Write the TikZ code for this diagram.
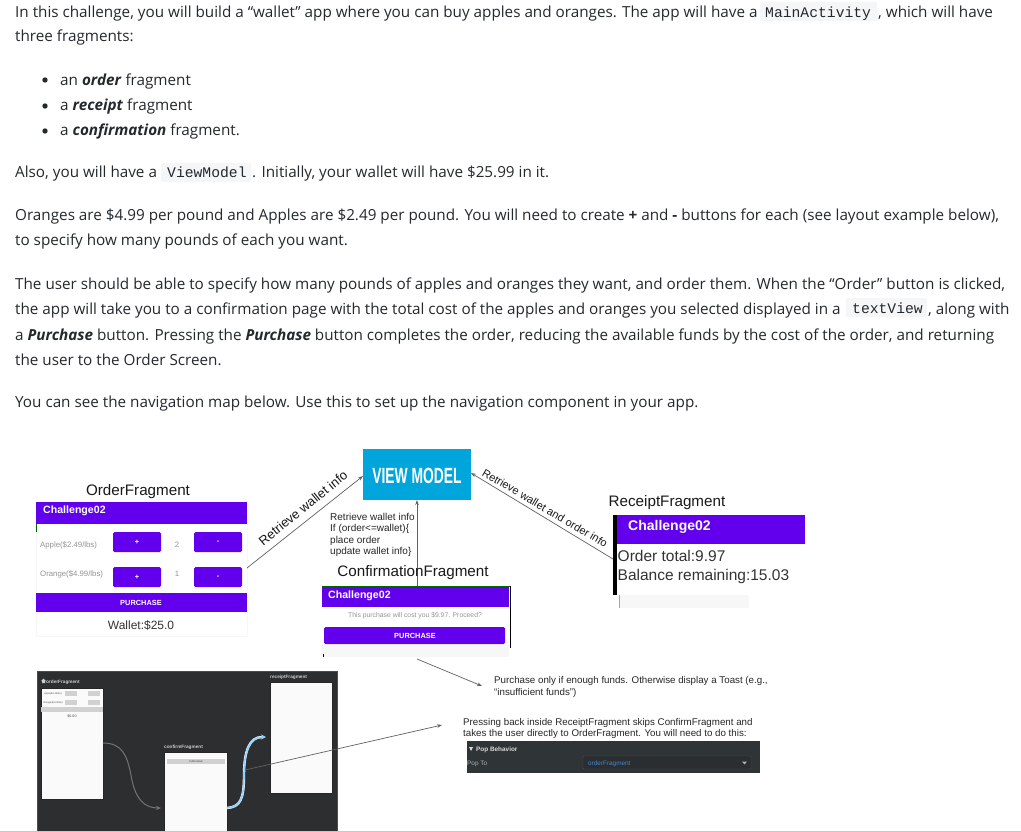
\documentclass[tikz,border=0pt]{standalone}
\usepackage{fontspec}
\setmainfont{Open Sans}
\setmonofont{Liberation Mono}
\newfontfamily\ar{Liberation Sans}
\usetikzlibrary{arrows.meta}
\definecolor{purp}{HTML}{6200EE}
\definecolor{txt}{HTML}{24292E}
\definecolor{codebg}{HTML}{F5F6F7}
\definecolor{vmblue}{HTML}{00A5DB}
\definecolor{navbg}{HTML}{2D2E30}
\definecolor{popbg}{HTML}{2F3436}
\definecolor{popdd}{HTML}{2B2E30}
\definecolor{popedge}{HTML}{474B4E}
\definecolor{popblue}{HTML}{4A86C8}
\newcommand\fs[1]{\fontsize{#1}{#1}\selectfont}
\newcommand\rbox[6]{\pgfmathsetmacro\bw{#4-#2}\pgfmathsetmacro\bh{#5-#3}%
 \node[#6,inner sep=0pt,outer sep=0pt,minimum width=\bw pt,minimum height=\bh pt,anchor=north west] (#1) at (#2,#3) {};}
\tikzset{
 x=1pt,y=-1pt,
 body/.style={anchor=base west,inner sep=0pt,text=txt,font=\fs{15.25}},
 code/.style={anchor=base west,inner sep=0pt,text=txt,font=\ttfamily\fs{14.7}},
 codebox/.style={fill=codebg,draw=none,rounded corners=2pt},
 ann/.style={anchor=base west,inner sep=0pt,text=black!85,font=\ar\fs{9.75}},
 title/.style={inner sep=0pt,text=black!90,font=\ar\fs{15.2}},
 purplebar/.style={fill=purp,draw=none},
 btn/.style={fill=purp,draw=none,rounded corners=1.5pt},
 btnlab/.style={inner sep=0pt,text=white,font=\ar\bfseries\fs{7.4}},
 graylab/.style={inner sep=0pt,text=black!42,font=\ar\fs{7.8}},
 apptitle/.style={anchor=base west,inner sep=0pt,text=white,font=\ar\bfseries\fs{10.6}},
 conn/.style={draw=black!62,line width=.7pt,-{Stealth[length=5pt,width=3.5pt]}},
 screen/.style={fill=white!98!black,draw=black!85,line width=.5pt},
 navtitle/.style={anchor=base west,inner sep=0pt,text=black!20,font=\ar\bfseries\fs{4.7}},
 minibtn/.style={fill=black!18,draw=none},
 bulletdot/.style={circle,fill=txt,draw=none,inner sep=0pt,minimum size=5.4pt},
}
\begin{document}
\begin{tikzpicture}
\useasboundingbox (0,0) rectangle (1021,832);
\fill[white] (0,0) rectangle (1021,832);
% ---- page text
\rbox{c1}{760}{2}{877}{21}{codebox}
\rbox{c2}{161}{163}{251}{182}{codebox}
\rbox{c3}{846}{298}{927}{317}{codebox}
\node[body] (t1) at (15,18) {In this challenge, you will build a “wallet” app where you can buy apples and oranges. The app will have a};
\node[code] (t1c) at (765,17.5) {MainActivity};
\node[body] (t1b) at (878,18) {, which will have};
\node[body] (t2) at (15,42) {three fragments:};
\node[bulletdot] (b1) at (45,80) {};
\node[bulletdot] (b2) at (45,106) {};
\node[bulletdot] (b3) at (45,131) {};
\node[body] (l1) at (60,86) {an \textbf{\textit{order}} fragment};
\node[body] (l2) at (60,111) {a \textbf{\textit{receipt}} fragment};
\node[body] (l3) at (60,136) {a \textbf{\textit{confirmation}} fragment.};
\node[body] (t3) at (15,178) {Also, you will have a};
\node[code] (t3c) at (167,177.5) {ViewModel};
\node[body] (t3b) at (252,178) {. Initially, your wallet will have \$25.99 in it.};
\node[body] (t4) at (15,221) {Oranges are \$4.99 per pound and Apples are \$2.49 per pound. You will need to create \textbf{+} and \textbf{-} buttons for each (see layout example below),};
\node[body] (t5) at (15,246) {to specify how many pounds of each you want.};
\node[body] (t6) at (15,289) {The user should be able to specify how many pounds of apples and oranges they want, and order them. When the “Order” button is clicked,};
\node[body] (t7) at (15,314) {the app will take you to a confirmation page with the total cost of the apples and oranges you selected displayed in a};
\node[code] (t7c) at (852,313.5) {textView};
\node[body] (t7b) at (928,314) {, along with};
\node[body] (t8) at (15,340) {a \textbf{\textit{Purchase}} button. Pressing the \textbf{\textit{Purchase}} button completes the order, reducing the available funds by the cost of the order, and returning};
\node[body] (t9) at (15,365) {the user to the Order Screen.};
\node[body] (t10) at (15,407) {You can see the navigation map below. Use this to set up the navigation component in your app.};
% ---- order fragment
\node[title] (ordt) at (138,491.5) {OrderFragment};
\rbox{ordp}{36}{502}{247}{636}{fill=white,draw=black!3}
\draw[draw=black!60!green,line width=.8pt] (36,502) -- (36,532);
\rbox{ordh}{36}{502}{247}{524}{purplebar}
\node[apptitle] (ordc) at (43,513.5) {Challenge02};
\node[graylab,anchor=west] (ap) at (40,545) {Apple(\$2.49/lbs)};
\node[graylab,anchor=west] (orl) at (40,574) {Orange(\$4.99/lbs)};
\rbox{bp1}{113}{532}{161}{552}{btn}
\rbox{bm1}{194}{532}{242}{552}{btn}
\rbox{bp2}{113}{567}{161}{587}{btn}
\rbox{bm2}{194}{567}{242}{587}{btn}
\node[btnlab] at (bp1) {+};
\node[btnlab] at (bm1) {-};
\node[btnlab] at (bp2) {+};
\node[btnlab] at (bm2) {-};
\node[graylab] (n1) at (177,545) {2};
\node[graylab] (n2) at (177,574) {1};
\rbox{ordb}{36}{593}{247}{612}{purplebar}
\node[btnlab] (ordbl) at (141,603) {PURCHASE};
\node[inner sep=0pt,text=black!80,font=\ar\fs{12}] (wal) at (141,625) {Wallet:\$25.0};
% ---- view model
\rbox{vm}{363}{449}{471}{500}{fill=vmblue,draw=none}
\node[inner sep=0pt,text=white,font=\ar\bfseries\fs{22},xscale=.63] (vmt) at (417,475.5) {VIEW MODEL};
% ---- confirmation
\node[ann,font=\ar\fs{10}] (w1) at (330,520) {Retrieve wallet info};
\node[ann,font=\ar\fs{10}] (w2) at (330,531) {If (order<=wallet)\{};
\node[ann,font=\ar\fs{10}] (w3) at (330,543) {place order};
\node[ann,font=\ar\fs{10}] (w4) at (330,554) {update wallet info\}};
\rbox{conp}{322}{586}{509}{657}{fill=white,draw=none}
\rbox{conf}{322}{645}{509}{657}{fill=black!3,draw=none}
\rbox{conh}{322}{586}{509}{607}{purplebar}
\draw[draw=black!60!green,line width=.8pt] (322,586) -- (510,586);
\draw[black,line width=.8pt] (510,586) -- (510,648);
\draw[black,line width=1pt] (323,654) -- (323,657);
\node[apptitle] (conc) at (328,598) {Challenge02};
\node[graylab,font=\ar\fs{6.8}] (cont) at (415,616) {This purchase will cost you \$9.97. Proceed?};
\rbox{conb}{324}{627}{505}{644}{btn}
\node[btnlab] (conbl) at (415,636) {PURCHASE};
\coordinate (confTop) at (417,586);
\coordinate (vmBot) at (417,500);
\draw[conn] (confTop) -- (vmBot);
\node[title] (cont2) at (413,572.5) {ConfirmationFragment};
% ---- receipt
\node[title] (rect) at (667,502.5) {ReceiptFragment};
\rbox{recs}{619}{595}{749}{608}{fill=black!3,draw=none}
\draw[black!35,line width=.6pt] (619,595) -- (619,608);
\rbox{recb}{613}{515}{617}{595}{fill=black,draw=none}
\rbox{rech}{617}{515}{805}{544}{purplebar}
\node[apptitle,font=\ar\bfseries\fs{14}] (recc) at (628,530) {Challenge02};
\node[anchor=base west,inner sep=0pt,text=black!80,font=\ar\fs{15.5}] (rec1) at (617.5,561) {Order total:9.97};
\node[anchor=base west,inner sep=0pt,text=black!80,font=\ar\fs{15.5}] (rec2) at (617.5,580) {Balance remaining:15.03};
% ---- connectors to view model
\coordinate (ordE) at (247,568);
\coordinate (vmW) at (363,476);
\draw[conn] (ordE) -- (vmW);
\coordinate (recW) at (613,559);
\coordinate (vmE) at (471,473);
\draw[conn] (recW) -- (vmE);
\node[inner sep=0pt,text=black!90,font=\ar\fs{13},rotate=39] (lab1) at (303,508) {Retrieve wallet info};
\node[inner sep=0pt,text=black!90,font=\ar\fs{11},rotate=-30.5] (lab2) at (545,508) {Retrieve wallet and order info};
% ---- annotations
\coordinate (confBot) at (417,659);
\coordinate (toastArr) at (482,686);
\draw[conn] (confBot) -- (toastArr);
\node[ann] (a1) at (494,683) {Purchase only if enough funds. Otherwise display a Toast (e.g.,};
\node[ann] (a2) at (494,695) {“insufficient funds”)};
\node[ann] (a3) at (463,725) {Pressing back inside ReceiptFragment skips ConfirmFragment and};
\node[ann] (a4) at (463,736) {takes the user directly to OrderFragment. You will need to do this:};
% ---- pop behavior
\rbox{pop}{467}{741}{759}{772}{fill=popbg,draw=black!80}
\node[anchor=base west,inner sep=0pt,text=black!15,font=\ar\bfseries\fs{6.4}] (pop1) at (476,751) {Pop Behavior};
\fill[black!15] (469,747) -- (473,747) -- (471,751) -- cycle;
\node[anchor=base west,inner sep=0pt,text=black!30,font=\ar\fs{6.4}] (pop2) at (467,765) {Pop To};
\rbox{popd}{583}{756}{751}{769}{fill=popdd,draw=popedge,rounded corners=1pt}
\node[anchor=base west,inner sep=0pt,text=popblue,font=\ar\fs{6.4}] (pop3) at (588,765) {orderFragment};
\fill[black!30] (742,761.5) -- (747,761.5) -- (744.5,764.5) -- cycle;
% ---- navigation graph
\rbox{nav}{37}{671}{337}{831}{fill=navbg,draw=black!70}
\rbox{s1}{41}{688}{103}{799}{screen}
\rbox{s2}{164}{752}{227}{831}{screen}
\rbox{s3}{270}{682}{332}{793}{screen}
\node[navtitle] (s1t) at (46,683) {orderFragment};
\fill[black!20] (41,681) -- (43.5,678.5) -- (46,681) -- (45,681) -- (45,683) -- (42,683) -- (42,681) -- cycle;
\node[navtitle] (s2t) at (164,748) {confirmFragment};
\node[navtitle] (s3t) at (270,678) {receiptFragment};
\rbox{m1}{65}{691}{77}{696}{minibtn}
\rbox{m2}{88}{691}{100}{696}{minibtn}
\rbox{m3}{65}{700}{77}{705}{minibtn}
\rbox{m4}{88}{700}{100}{705}{minibtn}
\rbox{m5}{41}{707}{103}{712}{minibtn}
\node[inner sep=0pt,text=black!70,font=\ar\fs{2.4}] (m6) at (53,693.5) {Apple(\$2.49/lbs)};
\node[inner sep=0pt,text=black!70,font=\ar\fs{2.4}] (m7) at (53,702.5) {Orange(\$4.99/lbs)};
\node[inner sep=0pt,text=black!70,font=\ar\fs{3.6}] (m8) at (72,716) {\$0.00};
\rbox{m9}{167}{759}{225}{764}{minibtn}
\node[inner sep=0pt,text=black!80,font=\ar\fs{2.4}] (m10) at (m9) {PURCHASE};
\draw[draw=black!55,line width=1pt,-{Stealth[length=5pt,width=4pt]}] (s1.east |- 0,743) .. controls (122,743) and (127,755) .. (131,775) .. controls (135,800) and (145,808) .. (161,808);
\draw[draw=white,line width=2.4pt] (s2.east |- 0,808) .. controls (240,807) and (244,800) .. (244,775) .. controls (244,750) and (250,737) .. (262,737);
\draw[draw=blue!40!cyan!45!white,line width=1.6pt,-{Stealth[length=5pt,width=5pt]}] (s2.east |- 0,808) .. controls (240,807) and (244,800) .. (244,775) .. controls (244,750) and (250,737) .. (266,737);
\coordinate (curveP) at (245,770);
\coordinate (popArr) at (442,725);
\draw[conn] (curveP) -- (popArr);
\draw[black!22,line width=1pt] (0,831.5) -- (1021,831.5);
\end{tikzpicture}
\end{document}
